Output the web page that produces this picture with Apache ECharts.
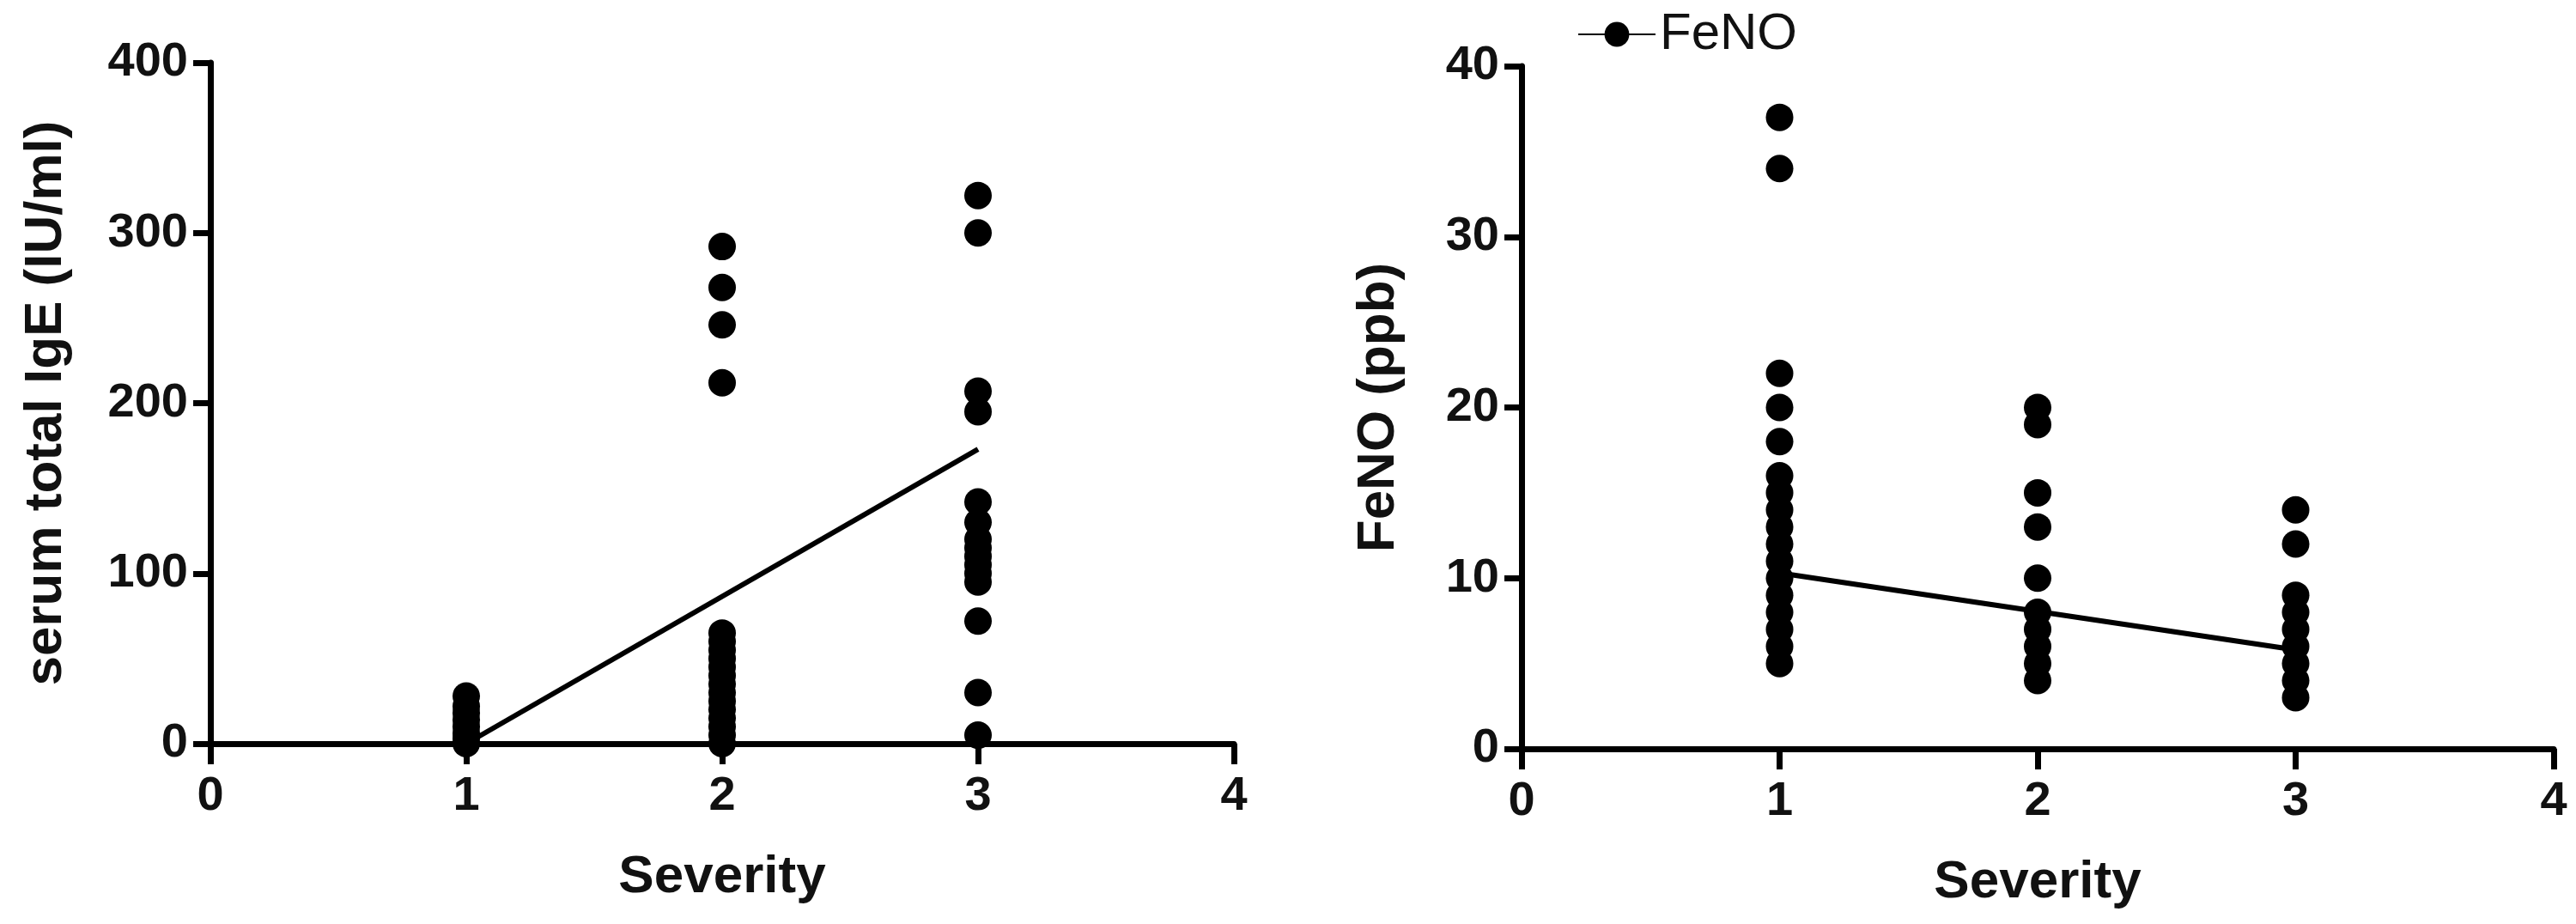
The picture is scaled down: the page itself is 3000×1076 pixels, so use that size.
<!DOCTYPE html><html><head><meta charset="utf-8">
<script src="https://cdn.jsdelivr.net/npm/echarts@6/dist/echarts.min.js"></script>
<style>html,body{margin:0;background:#fff}#c{width:3000px;height:1076px}</style></head><body><div id="c"></div><script>
const igeSev1=[0,3,6,10,14,18,22,28];
const igeSev2=[0,5,10,15,20,25,30,35,40,45,50,55,60,65,212,246,268,292];
const igeSev3=[5,30,72,95,100,105,110,115,120,130,142,195,207,300,322];
const igeFit=[[1,0],[3,173]];
const fenoSev1=[5,6,7,8,9,10,11,12,13,14,15,16,18,20,22,34,37];
const fenoSev2=[4,5,6,7,8,10,13,15,19,20];
const fenoSev3=[3,4,5,6,7,8,9,12,14];
const fenoFit=[[1,10.3],[3,5.8]];
const pts=(a,x)=>a.map(v=>[x,v]);
const F='"Liberation Sans Narrow", "Liberation Sans", Arial, sans-serif';
const lab={fontFamily:F,fontWeight:'bold',fontSize:56,color:'#111'};
const nm={fontFamily:'"Liberation Sans", Arial, sans-serif',fontWeight:'bold',fontSize:62,color:'#111'};
const axL={lineStyle:{color:'#000',width:7}};
function xa(i){return {gridIndex:i,type:'value',min:0,max:4,interval:1,name:'Severity',nameLocation:'middle',nameGap:125,
 nameTextStyle:nm,axisLine:axL,axisTick:{length:24,lineStyle:{color:'#000',width:7}},
 axisLabel:Object.assign({margin:34},lab),splitLine:{show:false}};}
function ya(i,max,iv,name){return {gridIndex:i,type:'value',min:0,max:max,interval:iv,name:name,nameLocation:'middle',nameGap:i?135:160,
 nameTextStyle:nm,axisLine:Object.assign({show:true},axL),axisTick:{show:true,length:20,lineStyle:{color:'#000',width:7}},
 axisLabel:Object.assign({margin:26},lab),splitLine:{show:false}};}
const sc=(d,xi,yi)=>({type:'scatter',xAxisIndex:xi,yAxisIndex:yi,data:d,symbolSize:32,itemStyle:{color:'#000',opacity:1},z:3});
const ln=(d,xi,yi)=>({type:'line',xAxisIndex:xi,yAxisIndex:yi,data:d,symbol:'none',lineStyle:{color:'#000',width:6},z:4});
const c=echarts.init(document.getElementById('c'));
c.setOption({animation:false,
 grid:[{left:245,top:73,width:1192,height:793},{left:1772,top:77,width:1202,height:795}],
 legend:{data:['FeNO'],left:1832,top:5,itemWidth:90,itemHeight:36,itemGap:10,textStyle:{fontFamily:'"Liberation Sans", Arial, sans-serif',fontSize:60,color:'#111'}},
 xAxis:[xa(0),xa(1)],
 yAxis:[ya(0,400,100,'serum total IgE (IU/ml)'),ya(1,40,10,'FeNO (ppb)')],
 series:[sc(pts(igeSev1,1),0,0),sc(pts(igeSev2,2),0,0),sc(pts(igeSev3,3),0,0),ln(igeFit,0,0),
 sc(pts(fenoSev1,1),1,1),sc(pts(fenoSev2,2),1,1),sc(pts(fenoSev3,3),1,1),ln(fenoFit,1,1),
 {name:'FeNO',type:'line',xAxisIndex:1,yAxisIndex:1,data:[],symbol:'circle',symbolSize:34,itemStyle:{color:'#000'},lineStyle:{color:'#000',width:6}}]
});
</script></body></html>
